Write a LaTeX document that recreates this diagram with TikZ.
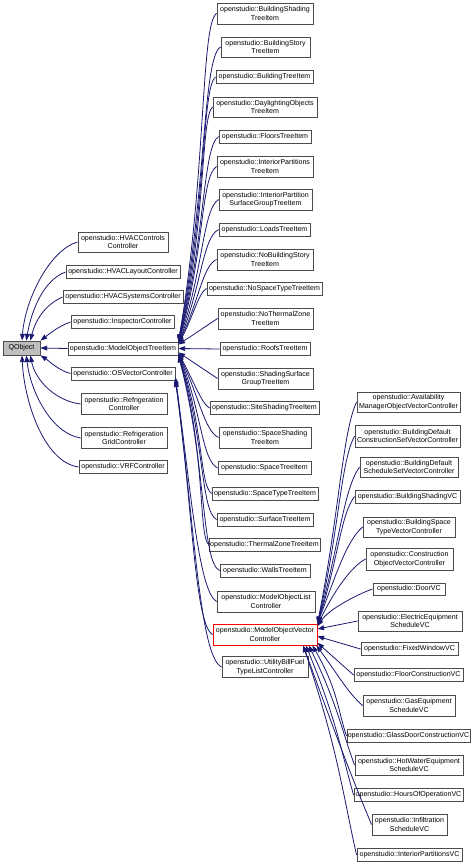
\documentclass[tikz,border=0pt]{standalone}
\usepackage{fontspec}
\setmainfont{Liberation Sans}
\usetikzlibrary{arrows.meta}

\definecolor{edgeblue}{RGB}{25,25,112}
\definecolor{boxgray}{RGB}{191,191,191}

\tikzset{every picture/.style={line width=0.75pt}}
\tikzset{
  cbox/.style 2 args={draw=black!70, fill=white, line width=0.65pt, inner sep=0pt,
    minimum width=#1*0.75pt, minimum height=#2*0.75pt, align=center,
    font=\fontsize{5.3}{6.3}\selectfont},
  inh/.style={draw=edgeblue, line width=0.6pt, -{Triangle[length=5pt,width=3.6pt]}}
}

\begin{document}
\begin{tikzpicture}[x=0.75pt,y=0.75pt,yscale=-1,xscale=1]
\useasboundingbox (0,0) rectangle (474,864);

% Base class
\node [cbox={37}{14}, fill=boxgray] (qobject) at (21.5,348) {QObject};

% Direct subclasses of QObject
\node [cbox={90}{20}] (hvacctl) at (123,242) {openstudio::HVACControls\\Controller};
\node [cbox={114}{13}] (hvaclay) at (123,272) {openstudio::HVACLayoutController};
\node [cbox={120}{13}] (hvacsys) at (123,297) {openstudio::HVACSystemsController};
\node [cbox={103}{13}] (inspctl) at (122.5,322) {openstudio::InspectorController};
\node [cbox={110}{13}] (motreeitem) at (123,348.5) {openstudio::ModelObjectTreeItem};
\node [cbox={104}{13}] (osvecctl) at (123,373.5) {openstudio::OSVectorController};
\node [cbox={86}{21}] (refctl) at (124,404) {openstudio::Refrigeration\\Controller};
\node [cbox={86}{21}] (refgrid) at (124,438) {openstudio::Refrigeration\\GridController};
\node [cbox={88}{13}] (vrfctl) at (123,467) {openstudio::VRFController};

% Tree items
\node [cbox={96}{21}] (bshade) at (265,13.5) {openstudio::BuildingShading\\TreeItem};
\node [cbox={89}{20}] (bstory) at (265.5,47) {openstudio::BuildingStory\\TreeItem};
\node [cbox={97}{13}] (building) at (264.5,77) {openstudio::BuildingTreeItem};
\node [cbox={104}{20}] (daylight) at (265,107) {openstudio::DaylightingObjects\\TreeItem};
\node [cbox={92}{13}] (floors) at (265,136.5) {openstudio::FloorsTreeItem};
\node [cbox={96}{21}] (intpart) at (265,166.5) {openstudio::InteriorPartitions\\TreeItem};
\node [cbox={93}{21}] (intpartsg) at (265.5,199.5) {openstudio::InteriorPartition\\SurfaceGroupTreeItem};
\node [cbox={91}{13}] (loads) at (264.5,229.5) {openstudio::LoadsTreeItem};
\node [cbox={96}{21}] (nobstory) at (265,259.5) {openstudio::NoBuildingStory\\TreeItem};
\node [cbox={115}{13}] (nospctype) at (264.5,288.5) {openstudio::NoSpaceTypeTreeItem};
\node [cbox={95}{21}] (notz) at (265.5,318.5) {openstudio::NoThermalZone\\TreeItem};
\node [cbox={90}{13}] (roofs) at (265,349) {openstudio::RoofsTreeItem};
\node [cbox={95}{21}] (shadsg) at (265.5,378.5) {openstudio::ShadingSurface\\GroupTreeItem};
\node [cbox={109}{13}] (siteshade) at (264.5,408) {openstudio::SiteShadingTreeItem};
\node [cbox={92}{21}] (spcshade) at (265,437.5) {openstudio::SpaceShading\\TreeItem};
\node [cbox={93}{13}] (space) at (264.5,468) {openstudio::SpaceTreeItem};
\node [cbox={106}{13}] (spctype) at (265,493.5) {openstudio::SpaceTypeTreeItem};
\node [cbox={96}{13}] (surface) at (265,519.5) {openstudio::SurfaceTreeItem};
\node [cbox={111}{13}] (thermz) at (264.5,544.5) {openstudio::ThermalZoneTreeItem};
\node [cbox={90}{13}] (walls) at (265,570.5) {openstudio::WallsTreeItem};

% Vector controllers
\node [cbox={98}{21}] (molistctl) at (266,601.5) {openstudio::ModelObjectList\\Controller};
\node [cbox={104}{21}, draw=red] (movecctl) at (265,634.5) {openstudio::ModelObjectVector\\Controller};
\node [cbox={86}{21}] (ubfuel) at (265,667) {openstudio::UtilityBillFuel\\TypeListController};

\node [cbox={103}{20}] (avail) at (408.5,402) {openstudio::Availability\\ManagerObjectVectorController};
\node [cbox={105}{22}] (bdcons) at (407.5,436) {openstudio::BuildingDefault\\ConstructionSetVectorController};
\node [cbox={98}{20}] (bdsched) at (409,467) {openstudio::BuildingDefault\\ScheduleSetVectorController};
\node [cbox={105}{13}] (bshadevc) at (407.5,496.5) {openstudio::BuildingShadingVC};
\node [cbox={92}{20}] (bspctype) at (409,527) {openstudio::BuildingSpace\\TypeVectorController};
\node [cbox={87}{22}] (constr) at (409.5,559) {openstudio::Construction\\ObjectVectorController};
\node [cbox={72}{12}] (door) at (409,589) {openstudio::DoorVC};
\node [cbox={104}{20}] (eleceq) at (410,621) {openstudio::ElectricEquipment\\ScheduleVC};
\node [cbox={97}{13}] (fixwin) at (409.5,649) {openstudio::FixedWindowVC};
\node [cbox={109}{13}] (floorcons) at (408.5,675) {openstudio::FloorConstructionVC};
\node [cbox={92}{21}] (gaseq) at (409,705.5) {openstudio::GasEquipment\\ScheduleVC};
\node [cbox={123}{13}] (glassdoor) at (408.5,736) {openstudio::GlassDoorConstructionVC};
\node [cbox={108}{20}] (hotwater) at (409,765) {openstudio::HotWaterEquipment\\ScheduleVC};
\node [cbox={109}{13}] (hoursop) at (408.5,795) {openstudio::HoursOfOperationVC};
\node [cbox={75}{21}] (infil) at (409.5,824.5) {openstudio::Infiltration\\ScheduleVC};
\node [cbox={105}{13}] (intpartvc) at (409.5,855) {openstudio::InteriorPartitionsVC};

% Inheritance to QObject
\draw [inh] (hvacctl.west) .. controls +(-28,8) and +(3,-41) .. (qobject.86);
\draw [inh] (hvaclay.west) .. controls +(-22,8) and +(5,-30) .. (qobject.57);
\draw [inh] (hvacsys.west) .. controls +(-18,8) and +(5,-20) .. (qobject.40);
\draw [inh] (inspctl.west) .. controls +(-12,4) and +(8,-6) .. (qobject.north east);
\draw [inh] (motreeitem.west) -- (qobject.east);
\draw [inh] (osvecctl.west) .. controls +(-12,-3) and +(8,5) .. (qobject.south east);
\draw [inh] (refctl.west) .. controls +(-25,-3) and +(5,25) .. (qobject.-40);
\draw [inh] (refgrid.west) .. controls +(-30,-5) and +(4,35) .. (qobject.-57);
\draw [inh] (vrfctl.west) .. controls +(-35,-5) and +(2,45) .. (qobject.-86);

% Inheritance to ModelObjectTreeItem
\draw [inh] (bshade.west) .. controls +(-16,10) and +(28,-164) .. (motreeitem.north east);
\draw [inh] (bstory.west) .. controls +(-18,10) and +(28,-148) .. (motreeitem.north east);
\draw [inh] (building.west) .. controls +(-14,10) and +(28,-132) .. (motreeitem.north east);
\draw [inh] (daylight.west) .. controls +(-12,10) and +(28,-118) .. (motreeitem.north east);
\draw [inh] (floors.west) .. controls +(-16,10) and +(27,-103) .. (motreeitem.north east);
\draw [inh] (intpart.west) .. controls +(-16,10) and +(26,-88) .. (motreeitem.north east);
\draw [inh] (intpartsg.west) .. controls +(-16,10) and +(25,-71) .. (motreeitem.north east);
\draw [inh] (loads.west) .. controls +(-16,8) and +(23,-56) .. (motreeitem.6);
\draw [inh] (nobstory.west) .. controls +(-14,6) and +(20,-40) .. (motreeitem.6);
\draw [inh] (nospctype.west) .. controls +(-8,4) and +(14,-25) .. (motreeitem.5);
\draw [inh] (notz.west) -- (motreeitem.4);
\draw [inh] (roofs.west) -- (motreeitem.east);
\draw [inh] (shadsg.west) -- (motreeitem.-4);
\draw [inh] (siteshade.west) .. controls +(-8,-4) and +(14,25) .. (motreeitem.-5);
\draw [inh] (spcshade.west) .. controls +(-14,-6) and +(20,40) .. (motreeitem.-6);
\draw [inh] (space.west) .. controls +(-16,-8) and +(23,56) .. (motreeitem.-6);
\draw [inh] (spctype.west) .. controls +(-12,-8) and +(25,69) .. (motreeitem.south east);
\draw [inh] (surface.west) .. controls +(-16,-8) and +(26,82) .. (motreeitem.south east);
\draw [inh] (thermz.west) .. controls +(-10,-8) and +(27,95) .. (motreeitem.south east);
\draw [inh] (walls.west) .. controls +(-18,-8) and +(28,108) .. (motreeitem.south east);

% Inheritance to OSVectorController
\draw [inh] (molistctl.west) .. controls +(-18,-10) and +(15,110) .. (osvecctl.-4);
\draw [inh] (movecctl.west) .. controls +(-18,-10) and +(17,127) .. (osvecctl.-6);
\draw [inh] (ubfuel.west) .. controls +(-22,-10) and +(19,143) .. (osvecctl.south east);

% Inheritance to ModelObjectVectorController
\draw [inh] (avail.west) .. controls +(-14,30) and +(22,-112) .. (movecctl.north east);
\draw [inh] (bdcons.west) .. controls +(-14,26) and +(22,-95) .. (movecctl.north east);
\draw [inh] (bdsched.west) .. controls +(-16,22) and +(22,-80) .. (movecctl.north east);
\draw [inh] (bshadevc.west) .. controls +(-14,18) and +(21,-65) .. (movecctl.north east);
\draw [inh] (bspctype.west) .. controls +(-16,14) and +(19,-50) .. (movecctl.north east);
\draw [inh] (constr.west) .. controls +(-15,8) and +(16,-33) .. (movecctl.10);
\draw [inh] (door.west) .. controls +(-12,4) and +(12,-18) .. (movecctl.9);
\draw [inh] (eleceq.west) -- (movecctl.6);
\draw [inh] (fixwin.west) -- (movecctl.-2);
\draw [inh] (floorcons.west) -- (movecctl.-9);
\draw [inh] (gaseq.west) .. controls +(-14,-12) and +(22,30) .. (movecctl.-12);
\draw [inh] (glassdoor.west) .. controls +(-8,-22) and +(26,45) .. (movecctl.-13);
\draw [inh] (hotwater.west) .. controls +(-12,-32) and +(29,60) .. (movecctl.-14);
\draw [inh] (hoursop.west) .. controls +(-12,-42) and +(31,75) .. (movecctl.-15);
\draw [inh] (infil.west) .. controls +(-22,-52) and +(33,90) .. (movecctl.-16);
\draw [inh] (intpartvc.west) .. controls +(-14,-62) and +(35,105) .. (movecctl.-16);

\end{tikzpicture}
\end{document}
